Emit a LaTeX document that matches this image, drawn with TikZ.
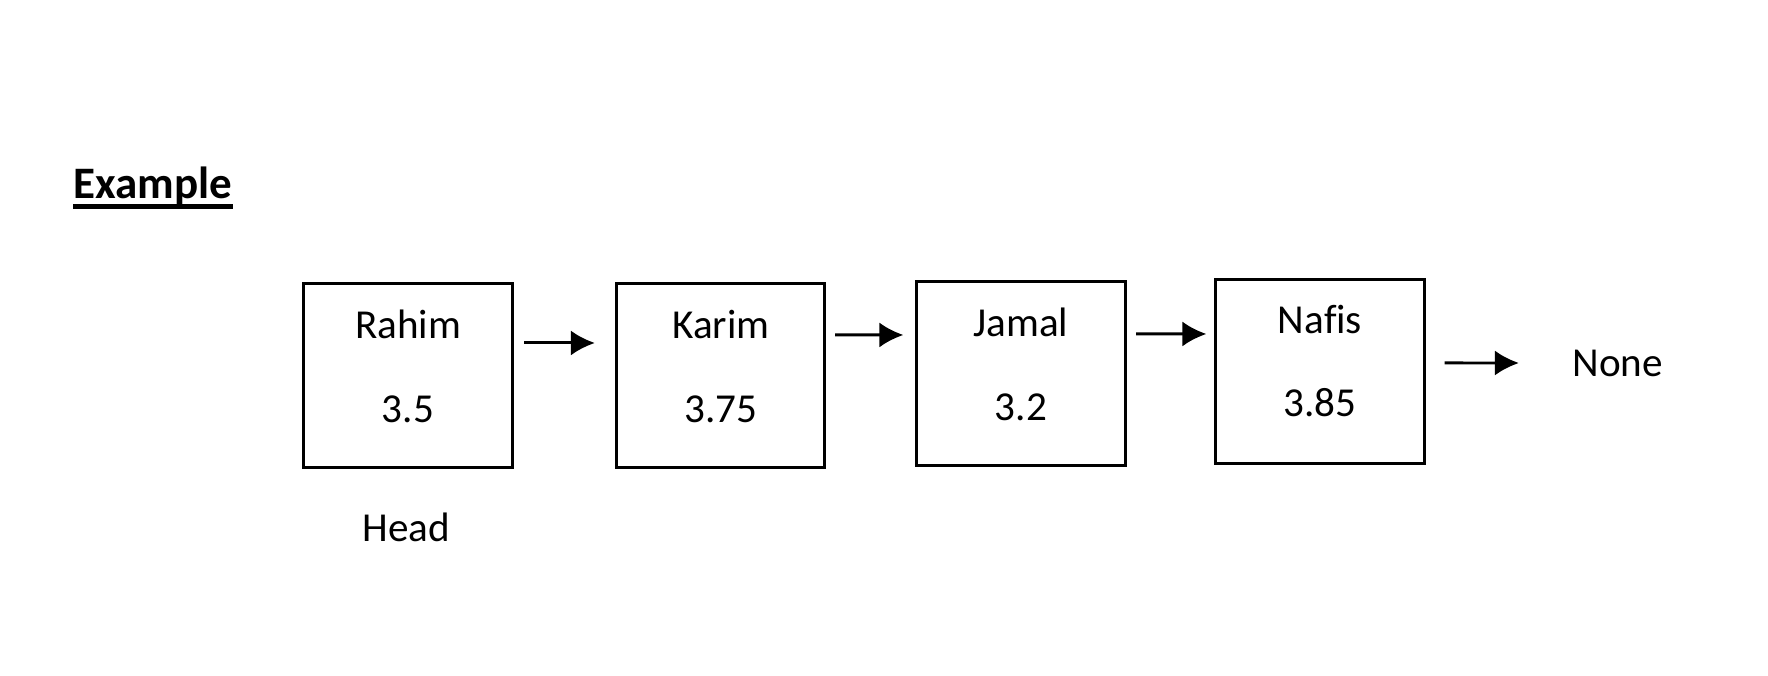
\documentclass[tikz,border=0pt]{standalone}
\usepackage{fontspec}
\setmainfont{Carlito}[Ligatures=NoCommon]
\usetikzlibrary{arrows.meta}
\tikzset{
    block/.style = {
        draw,
        shape=rectangle,
        minimum width=2.08cm,
        minimum height=1.83cm,
        line width=0.85pt
    },
    word/.style = {
        anchor=base,
        inner sep=0pt,
        font=\fontsize{11.7}{14}\selectfont
    },
    link/.style = {
        draw,
        ->,
        line width=0.85pt
    },
    >={Latex[length=2.4mm,width=2.5mm]},
}

\begin{document}
\begin{tikzpicture}[x=0.01cm,y=-0.01cm]
            \useasboundingbox (0,0) rectangle (1768,676);

            \node[word, anchor=base west, font=\fontsize{12.8}{15}\selectfont\bfseries] (title) at (73,199) {Example};
            \path[draw, line width=1.3pt] (title.south west) -- (title.south east);

            \node[block] (rahim) at (408,375.5) {};
            \node[block] (karim) at (720.5,375.5) {};
            \node[block] (jamal) at (1021,373.5) {};
            \node[block] (nafis) at (1320,371.5) {};

            \node[word] (rahimname) at (408,339) {Rahim};
            \node[word] (rahimgpa) at (408,423) {3.5};
            \node[word] (karimname) at (721,339) {Karim};
            \node[word] (karimgpa) at (721,423) {3.75};
            \node[word] (jamalname) at (1021,337) {Jamal};
            \node[word] (jamalgpa) at (1021,421) {3.2};
            \node[word] (nafisname) at (1320,334) {Nafis};
            \node[word] (nafisgpa) at (1320,417) {3.85};

            \node[word, anchor=west] (none) at (1572,363) {None};
            \node[word] (head) at (406.5,542) {Head};

            \path[link, shorten <=1.05mm, shorten >=2mm]
            ([yshift=3.25mm]rahim.east) -- ([yshift=3.25mm]karim.west);
            \path[link, shorten <=0.9mm, shorten >=1.2mm]
            ([yshift=4.05mm]karim.east) -- ([yshift=3.85mm]jamal.west);
            \path[link, shorten <=0.95mm, shorten >=0.8mm]
            ([yshift=3.95mm]jamal.east) -- ([yshift=3.75mm]nafis.west);
            \path[link, shorten <=1.9mm, shorten >=5.3mm]
            ([yshift=0.85mm]nafis.east) -- (none.west);
        \end{tikzpicture}
\end{document}
